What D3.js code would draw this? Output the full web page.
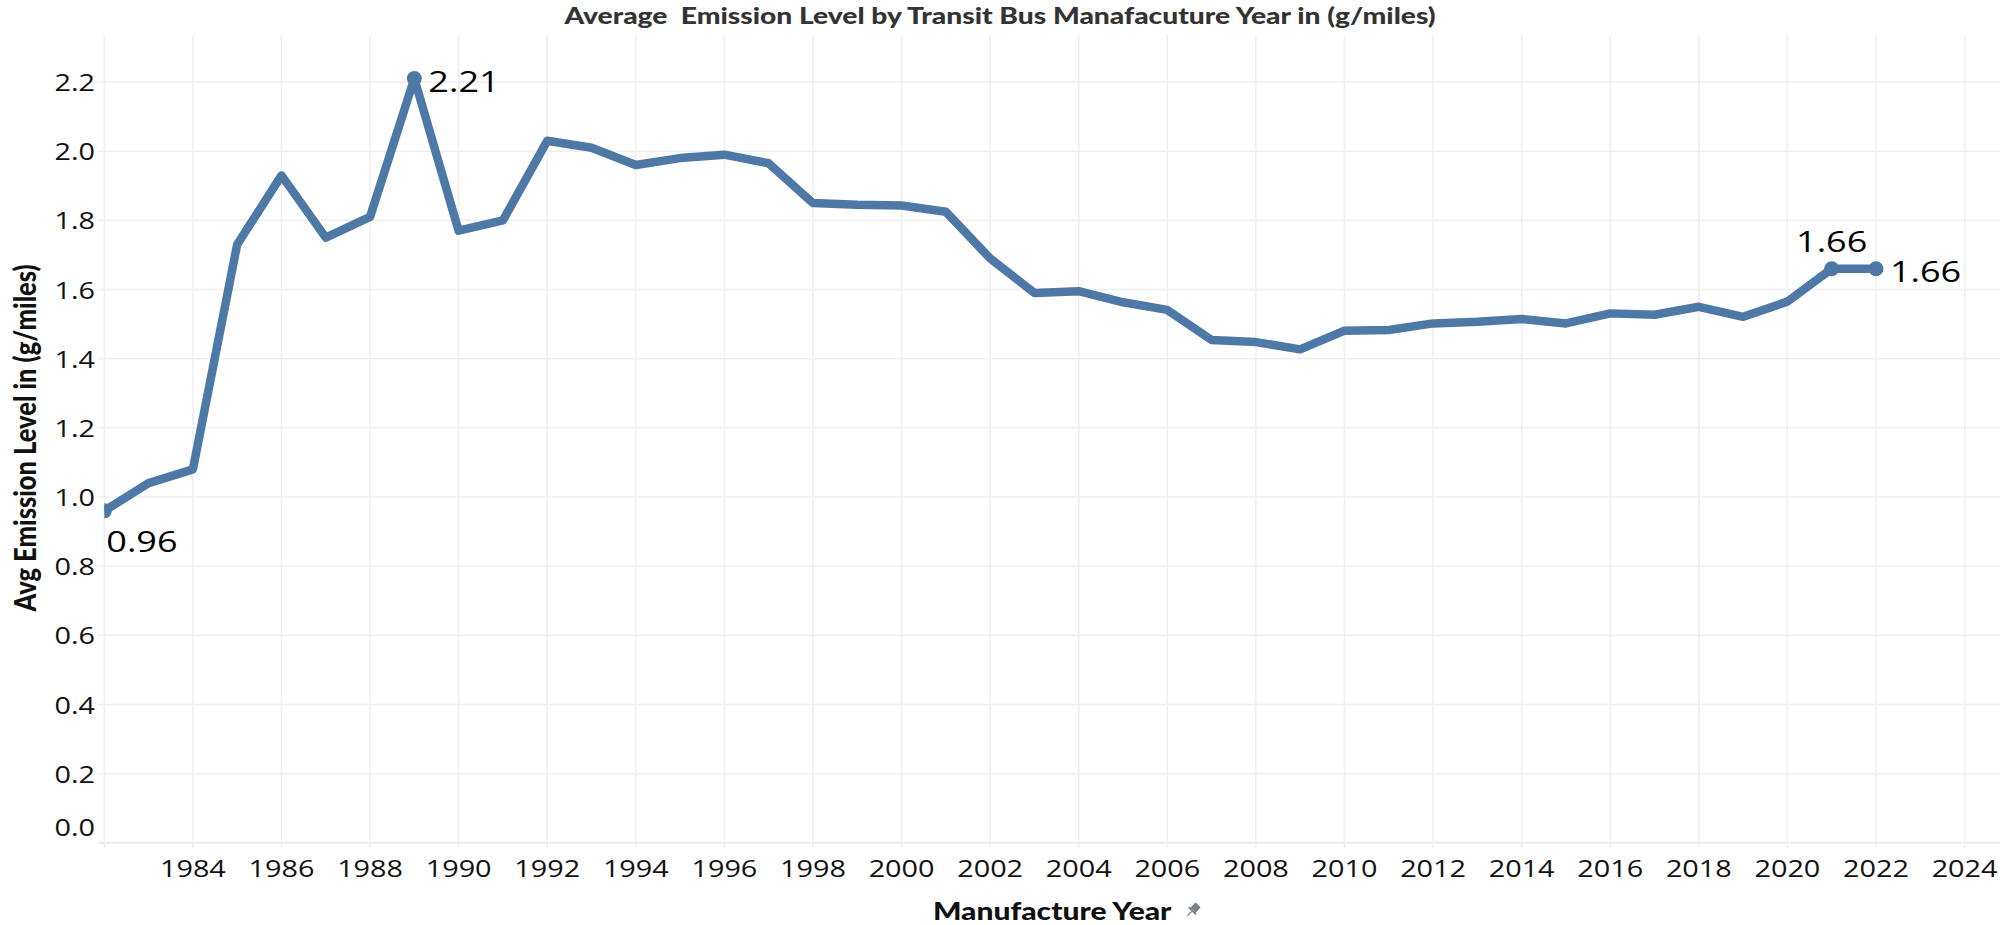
<!DOCTYPE html>
<html>
<head>
<meta charset="utf-8">
<script src="https://cdn.jsdelivr.net/npm/d3@7.9.0/dist/d3.min.js"></script>
<style>
  body { margin: 0; background: #fff; }
  svg { display: block; }
</style>
</head>
<body>
<svg id="chart" width="2000" height="925"></svg>
<script>
// ---- Data ----
const years = [1982, 1983, 1984, 1985, 1986, 1987, 1988, 1989, 1990, 1991,
  1992, 1993, 1994, 1995, 1996, 1997, 1998, 1999, 2000, 2001,
  2002, 2003, 2004, 2005, 2006, 2007, 2008, 2009, 2010, 2011,
  2012, 2013, 2014, 2015, 2016, 2017, 2018, 2019, 2020, 2021, 2022];
const emission = [0.96, 1.04, 1.08, 1.73, 1.93, 1.75, 1.81, 2.21, 1.77, 1.80,
  2.03, 2.01, 1.96, 1.98, 1.99, 1.965, 1.85, 1.845, 1.843, 1.825,
  1.69, 1.59, 1.595, 1.563, 1.541, 1.454, 1.448, 1.427, 1.481, 1.483,
  1.502, 1.507, 1.515, 1.502, 1.531, 1.527, 1.55, 1.521, 1.565, 1.66, 1.66];
const yTicks = [0, 0.2, 0.4, 0.6, 0.8, 1.0, 1.2, 1.4, 1.6, 1.8, 2.0, 2.2];
const xGrid = d3.range(1982, 2025, 2);
const xTickLabels = d3.range(1984, 2025, 2);
const labelYears = [1982, 1989, 2021, 2022];
const labelPlace = ['below', 'right', 'above', 'right'];

const titleText = 'Average\u00a0 Emission Level by Transit Bus Manafacuture Year in (g/miles)';
const yTitle = 'Avg Emission Level in (g/miles)';
const xTitle = 'Manufacture Year';

// ---- Visual constants ----
const W = 2000, H = 925;
const plot = { left: 104.3, right: 2000, top: 35, bottom: 848 };
const blue = '#4e79a7';
const grid = '#efefef';
const sx = 1.2; // picture is stretched sideways; text follows it
const numFont = "'Open Sans', 'Noto Sans', sans-serif";
const boldFont = "Lato, 'Open Sans', sans-serif";

const data = years.map((y, i) => ({ year: y, value: emission[i] }));

const x = d3.scaleLinear().domain([1982, 2024.8]).range([plot.left, plot.right]);
const y = d3.scaleLinear().domain([-0.015, 2.336]).range([plot.bottom, plot.top]);

const svg = d3.select('#chart');
svg.append('rect').attr('width', W).attr('height', H).attr('fill', '#fff');

function stretched(g, px, py) {
  return g.attr('transform', `translate(${px},${py}) scale(${sx},1)`);
}

// ---- Grid ----
const gridG = svg.append('g');
gridG.selectAll('line.h')
  .data(yTicks)
  .join('line')
  .attr('class', 'h')
  .attr('x1', plot.left - 7).attr('x2', plot.right)
  .attr('y1', d => y(d)).attr('y2', d => y(d))
  .attr('stroke', d => d === 0 ? '#ebebeb' : grid)
  .attr('stroke-width', d => d === 0 ? 2 : 1.5);
gridG.selectAll('line.v')
  .data(xGrid)
  .join('line')
  .attr('class', 'v')
  .attr('x1', d => x(d)).attr('x2', d => x(d))
  .attr('y1', plot.top).attr('y2', y(0) + 6)
  .attr('stroke', grid)
  .attr('stroke-width', 1.5);

// ---- Y tick labels ----
const yLab = svg.append('g');
yTicks.forEach(t => {
  const g = stretched(yLab.append('g'), 95, y(t) - (t === 0 ? 16 : 0));
  g.append('text')
    .attr('text-anchor', 'end')
    .attr('dominant-baseline', 'central')
    .attr('font-family', numFont)
    .attr('font-size', 24)
    .attr('fill', '#111')
    .text(d3.format('.1f')(t));
});

// ---- X tick labels ----
const xLab = svg.append('g');
xTickLabels.forEach(t => {
  const g = stretched(xLab.append('g'), x(t), 877);
  g.append('text')
    .attr('text-anchor', 'middle')
    .attr('font-family', numFont)
    .attr('font-size', 24)
    .attr('fill', '#111')
    .text(t);
});

// ---- Line ----
svg.append('clipPath').attr('id', 'clip')
  .append('rect')
  .attr('x', plot.left).attr('y', 0)
  .attr('width', plot.right - plot.left).attr('height', plot.bottom);

const line = d3.line().x(d => x(d.year)).y(d => y(d.value));
const marks = svg.append('g').attr('clip-path', 'url(#clip)');
marks.append('path')
  .datum(data)
  .attr('d', line)
  .attr('fill', 'none')
  .attr('stroke', blue)
  .attr('stroke-width', 8.5)
  .attr('stroke-linejoin', 'round');

const labelled = labelYears.map((yr, i) => ({
  ...data.find(d => d.year === yr), place: labelPlace[i]
}));
marks.selectAll('circle')
  .data(labelled)
  .join('circle')
  .attr('cx', d => x(d.year))
  .attr('cy', d => y(d.value))
  .attr('r', 7.5)
  .attr('fill', blue);

// ---- Data labels ----
const dl = svg.append('g');
labelled.forEach(d => {
  const px = x(d.year), py = y(d.value);
  let ax = px, ay = py, anchor = 'start';
  if (d.place === 'right') { ax = px + 14; ay = py + 2; }
  if (d.place === 'below') { ax = px + 2; ay = py + 30; }
  if (d.place === 'above') { anchor = 'middle'; ay = py - 28; }
  const g = stretched(dl.append('g'), ax, ay);
  g.append('text')
    .attr('text-anchor', anchor)
    .attr('dominant-baseline', 'central')
    .attr('font-family', numFont)
    .attr('font-size', 30)
    .attr('fill', '#000')
    .text(d3.format('.2f')(d.value));
});

// ---- Titles ----
stretched(svg.append('g'), W / 2, 24)
  .append('text')
  .attr('text-anchor', 'middle')
  .attr('font-family', boldFont)
  .attr('font-weight', 900)
  .attr('font-size', 23.5)
  .attr('fill', '#333')
  .text(titleText);

svg.append('g')
  .attr('transform', `translate(36,${(258 + 618) / 2}) scale(${sx},1) rotate(-90)`)
  .append('text')
  .attr('text-anchor', 'middle')
  .attr('font-family', boldFont)
  .attr('font-weight', 900)
  .attr('font-size', 25.5)
  .attr('fill', '#111')
  .text(yTitle);

const xt = stretched(svg.append('g'), (plot.left + plot.right) / 2, 920);
xt.append('text')
  .attr('text-anchor', 'middle')
  .attr('font-family', boldFont)
  .attr('font-weight', 900)
  .attr('font-size', 25)
  .attr('fill', '#111')
  .text(xTitle);

// little pin next to the axis title
const pin = svg.append('g')
  .attr('transform', `translate(${(plot.left + plot.right) / 2 + 141},910) rotate(45)`);
pin.append('rect').attr('x', -3.5).attr('y', -7).attr('width', 7).attr('height', 7).attr('fill', '#7a8088');
pin.append('rect').attr('x', -5).attr('y', 0).attr('width', 10).attr('height', 2).attr('fill', '#7a8088');
pin.append('line').attr('x1', 0).attr('x2', 0).attr('y1', 2).attr('y2', 8).attr('stroke', '#7a8088').attr('stroke-width', 1.3);
</script>
</body>
</html>
